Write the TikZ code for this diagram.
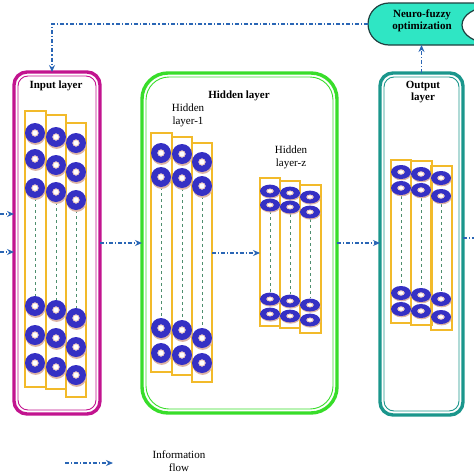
\documentclass[tikz,border=0pt]{standalone}
\usepackage{fontspec}
\setmainfont{Liberation Serif}
\usetikzlibrary{arrows.meta,shapes.geometric}
\definecolor{cmag}{HTML}{C2148F}
\definecolor{cgrn}{HTML}{38DD2A}
\definecolor{ctea}{HTML}{1B968C}
\definecolor{cyel}{HTML}{F2BA2A}
\definecolor{nblue}{HTML}{3530C4}
\definecolor{nshadow}{HTML}{DDB5A5}
\definecolor{npink}{HTML}{EFC7BA}
\definecolor{ablue}{HTML}{2A66B5}
\definecolor{dgrn}{HTML}{4F8F6F}
\definecolor{caqua}{HTML}{2FE6C4}
\definecolor{cdark}{HTML}{1F3F3F}
\begin{document}
\begin{tikzpicture}[x=1pt,y=-1pt,
  every node/.style={font=\fontsize{11}{13}\selectfont},
  boxst/.style={draw, line width=3.4pt, inner sep=0pt, outer sep=0pt},
  colst/.style={draw=cyel, line width=1.7pt, inner sep=0pt, outer sep=0pt},
  dl/.style={dgrn, line width=1pt, dash pattern=on 3pt off 3pt},
  flow/.style={ablue, line width=1.1pt, dash pattern=on 4pt off 2pt on 1.2pt off 2pt},
  flowarr/.style={flow, -{Stealth[length=7pt,width=6pt]}},
  title/.style={font=\bfseries\fontsize{11}{12.5}\selectfont, align=center},
  lbl/.style={font=\fontsize{11}{13}\selectfont, align=center},
  neuron/.pic={
    \fill[nshadow] (0.6pt,-1.9pt) circle (10pt);
    \fill[nblue] (0,0) circle (10pt);
    \fill[white] (0,0) circle (3.5pt);
    \draw[npink, line width=0.8pt] (0,0) circle (3.1pt);
  }]
\useasboundingbox (0,0) rectangle (474,474);
\clip (0,0) rectangle (474,474);

% ---------- layer boxes ----------
\node[boxst, draw=cmag, minimum width=86pt, minimum height=342pt, rounded corners=13pt] (inp) at (57,243) {};
\draw[cmag, line width=0.9pt, rounded corners=10pt] ([xshift=4pt,yshift=-4pt]inp.north west) rectangle ([xshift=-4pt,yshift=4pt]inp.south east);
\node[boxst, draw=cgrn, minimum width=195pt, minimum height=340pt, rounded corners=26pt] (hid) at (239.5,243) {};
\draw[cgrn, line width=0.9pt, rounded corners=23pt] ([xshift=4pt,yshift=-4pt]hid.north west) rectangle ([xshift=-4pt,yshift=4pt]hid.south east);
\node[boxst, draw=ctea, minimum width=83pt, minimum height=342pt, rounded corners=13pt] (out) at (421.5,244) {};
\draw[ctea, line width=0.9pt, rounded corners=10pt] ([xshift=4pt,yshift=-4pt]out.north west) rectangle ([xshift=-4pt,yshift=4pt]out.south east);

% ---------- neuro-fuzzy box ----------
\node[draw=cdark, fill=caqua, line width=1.2pt, minimum width=132pt, minimum height=42pt, rounded corners=21pt, inner sep=0pt, outer sep=0pt] (nfbox) at (434,24) {};
\node[draw=cdark, fill=white, line width=1.2pt, ellipse, minimum width=56pt, minimum height=36pt, inner sep=0pt] (nfell) at (490,25) {};
\node[title] (nf) at (422,21) {Neuro-fuzzy\\optimization};

% ---------- titles ----------
\node[title] (tin) at (56,86) {Input layer};
\node[title] (thid) at (239,96) {Hidden layer};
\node[lbl] (th1) at (188,115) {Hidden\\layer-1};
\node[lbl] (thz) at (291,157) {Hidden\\layer-z};
\node[title] (tout) at (423,92) {Output\\layer};

% ---------- input layer columns ----------
\node[colst, minimum width=21pt, minimum height=276pt] (i1) at (35.5,249) {};
\node[colst, minimum width=20pt, minimum height=274pt] (i2) at (56,252) {};
\node[colst, minimum width=20pt, minimum height=274pt] (i3) at (76,260) {};
\draw[dl] (35,198) -- (35,296);
\draw[dl] (56,202) -- (56,300);
\draw[dl] (76,210) -- (76,308);
\foreach \y in {133,159,188,306,335,363} \pic at (35,\y) {neuron};
\foreach \y in {137,165,192,310,338,367} \pic at (56,\y) {neuron};
\foreach \y in {143,172,200,318,347,375} \pic at (76,\y) {neuron};

% ---------- hidden layer-1 columns ----------
\node[colst, minimum width=21pt, minimum height=239pt] (h11) at (161.5,252.5) {};
\node[colst, minimum width=20pt, minimum height=238pt] (h12) at (182,256) {};
\node[colst, minimum width=20pt, minimum height=239pt] (h13) at (202,262.5) {};
\draw[dl] (161,187) -- (161,318);
\draw[dl] (182,188) -- (182,320);
\draw[dl] (202,196) -- (202,328);
\foreach \y in {153,177,328,353} \pic at (161,\y) {neuron};
\foreach \y in {154,178,330,355} \pic at (182,\y) {neuron};
\foreach \y in {162,186,338,363} \pic at (202,\y) {neuron};

% ---------- hidden layer-z columns ----------
\node[colst, minimum width=20pt, minimum height=148pt] (hz1) at (270,252) {};
\node[colst, minimum width=20pt, minimum height=147pt] (hz2) at (290,254.5) {};
\node[colst, minimum width=21pt, minimum height=148pt] (hz3) at (310.5,259) {};
\draw[dl] (270,211) -- (270,292);
\draw[dl] (290,214) -- (290,294);
\draw[dl] (310,219) -- (310,298);
\foreach \y in {191,205,299,314} \pic[yscale=0.64] at (270,\y) {neuron};
\foreach \y in {193,207,301,316} \pic[yscale=0.64] at (290,\y) {neuron};
\foreach \y in {197,212,305,320} \pic[yscale=0.64] at (310,\y) {neuron};

% ---------- output layer columns ----------
\node[colst, minimum width=20pt, minimum height=163pt] (o1) at (401,241.5) {};
\node[colst, minimum width=21pt, minimum height=164pt] (o2) at (421.5,243) {};
\node[colst, minimum width=21pt, minimum height=164pt] (o3) at (441.5,248) {};
\draw[dl] (401,196) -- (401,285);
\draw[dl] (421,198) -- (421,287);
\draw[dl] (441,204) -- (441,291);
\foreach \y in {172,188,293,309} \pic[yscale=0.7] at (401,\y) {neuron};
\foreach \y in {174,190,295,311} \pic[yscale=0.7] at (421,\y) {neuron};
\foreach \y in {178,196,299,317} \pic[yscale=0.7] at (441,\y) {neuron};

% ---------- information flow ----------
\coordinate (inA) at (0,214);
\coordinate (inB) at (0,252);
\draw[flowarr] (inA) -- (inA -| inp.west);
\draw[flowarr] (inB) -- (inB -| inp.west);
\draw[flowarr] (inp.east) -- (hid.west);
\coordinate (hzA) at (0,253);
\draw[flowarr] (hzA -| h13.east) -- (hzA -| hz1.west);
\draw[flowarr] (hid.east) -- (hid.east -| out.west);
\coordinate (oA) at (474,238);
\draw[flow] (oA -| out.east) -- (oA);
\draw[flowarr] (out.north) -- (out.north |- nfbox.south);
\coordinate (fb) at (52,24);
\draw[flowarr] (nfbox.west) -- (fb) -- (fb |- inp.north);

% ---------- legend ----------
\coordinate (lg1) at (65,463);
\coordinate (lg2) at (113,463);
\draw[flowarr] (lg1) -- (lg2);
\node[lbl, font=\fontsize{11}{12.5}\selectfont] (lgt) at (179,461) {Information\\flow};
\end{tikzpicture}
\end{document}
